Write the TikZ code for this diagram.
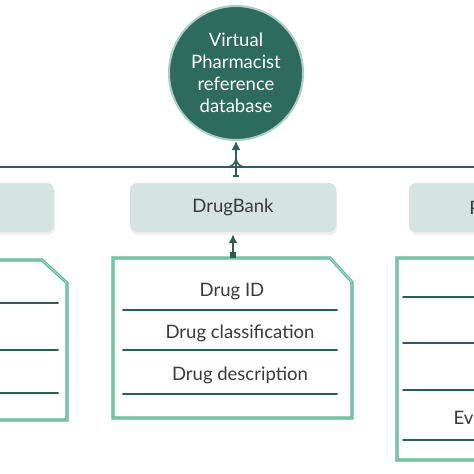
\documentclass[tikz,border=0pt]{standalone}
\usepackage{fontspec}
\setsansfont{Lato}
\renewcommand{\familydefault}{\sfdefault}
\usetikzlibrary{arrows.meta,calc,shadows}
\definecolor{deepteal}{HTML}{2E6A5D}
\definecolor{ringteal}{HTML}{A9CFC4}
\definecolor{connteal}{HTML}{2F5E54}
\definecolor{boxfill}{HTML}{D5E3E1}
\definecolor{mint}{HTML}{5FB594}
\definecolor{mintlight}{HTML}{A8DCC8}
\definecolor{inkgrey}{HTML}{3A3A3A}

\begin{document}
\begin{tikzpicture}[x=1pt,y=-1pt]
\useasboundingbox (0,0) rectangle (474,474);
\tikzstyle{every node}=[font=\fontsize{18.5}{22}\selectfont,text=inkgrey];
\tikzstyle{hub}=[circle,minimum size=134pt,fill=deepteal,draw=ringteal,line width=2pt,text=white,align=center,inner sep=0pt];
\tikzstyle{srcbox}=[minimum width=206pt,minimum height=49pt,rounded corners=7pt,fill=boxfill,drop shadow={opacity=0.12,shadow xshift=1pt,shadow yshift=-3pt}];
\tikzstyle{conn}=[draw=connteal,line width=1.6pt];
\tikzstyle{doc}=[draw=mint,line width=1.1pt,double=mintlight,double distance=0.9pt,fill=white];
\tikzstyle{rule}=[draw=connteal,line width=2pt,line cap=round];

\node[hub] (vpdb) at (236,73) {Virtual\\Pharmacist\\reference\\database};

\coordinate (l) at (0,167);
\coordinate (r) at (474,167);
\coordinate (j) at (vpdb.south |- l);
\coordinate (stub) at ($(j)+(0,10)$);
\draw[conn] (l) -- (r);
\draw[conn,-{Bar[width=6pt]}] (j) -- (stub);
\draw[conn,-{Latex[length=9pt,width=9pt]}] (j) -- (vpdb.south);
\draw[conn] ($(j)+(-9,0)$) to[out=0,in=-90] ($(j)+(0,-9)$);
\draw[conn] ($(j)+(9,0)$) to[out=180,in=-90] ($(j)+(0,-9)$);

\node[srcbox] (b1) at (-49,207.5) {};
\node[srcbox] (b2) at (233,207.5) {DrugBank};
\node[srcbox] (b3) at (512,207.5) {};
\node[anchor=west,xshift=57pt] (b3t) at (b3.west) {P};

\draw[doc] (-172,260) -- (42,260) -- (67,283) -- (67,420) -- (-172,420) -- cycle;
\draw[doc] (113,258) -- (330,258) -- (352,282) -- (352,418) -- (113,418) -- cycle;
\draw[doc] (397,258) -- (614,258) -- (636,282) -- (636,460) -- (397,460) -- cycle;

\foreach \y in {303,350,393}
{
\draw[rule] (-150,\y) -- (58,\y);
}
\foreach \y in {310,350,394}
{
\draw[rule] (123,\y) -- (337,\y);
}
\foreach \y in {297,343,390,440}
{
\draw[rule] (403,\y) -- (620,\y);
}

\node (f1) at (232,292) {Drug ID};
\node (f2) at (240,333) {Drug classification};
\node (f3) at (240,375) {Drug description};
\node[anchor=west] (e1) at (450,418) {Evi};

\coordinate (d2) at (233,258);
\draw[conn,{Square[length=6pt,width=6pt]}-{Latex[length=9pt,width=9pt]},shorten >=2pt] (d2) -- (b2.south);
\end{tikzpicture}
\end{document}
